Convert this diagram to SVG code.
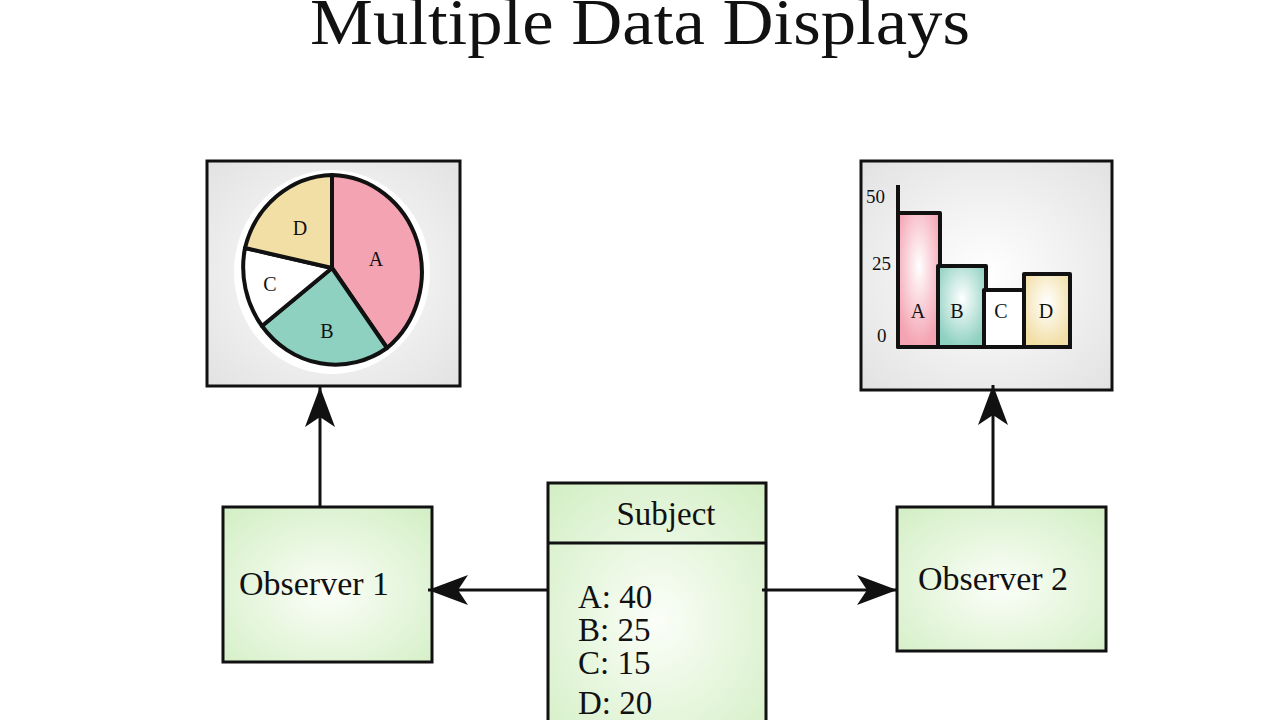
<svg xmlns="http://www.w3.org/2000/svg" width="1280" height="720" viewBox="0 0 1280 720">
<style>
text{font-family:"Liberation Serif",serif;fill:#111}
.box{stroke:#111;stroke-width:3}
.sl{stroke:#111;stroke-width:4;stroke-linejoin:round}
.con{stroke:#111;stroke-width:3;fill:none;marker-end:url(#ah)}
</style>
<defs>
<radialGradient id="gg" cx="50%" cy="55%" r="70%"><stop offset="0" stop-color="#fbfef8"/><stop offset="1" stop-color="#d4efc6"/></radialGradient>
<radialGradient id="gw" cx="50%" cy="50%" r="70%"><stop offset="0" stop-color="#fff"/><stop offset="1" stop-color="#e2e2e2"/></radialGradient>
<radialGradient id="ga" cx="50%" cy="40%" r="60%"><stop offset="0" stop-color="#fff"/><stop offset="1" stop-color="#f4a3b2"/></radialGradient>
<radialGradient id="gb" cx="50%" cy="40%" r="60%"><stop offset="0" stop-color="#fff"/><stop offset="1" stop-color="#8fd1c1"/></radialGradient>
<radialGradient id="gd" cx="50%" cy="40%" r="60%"><stop offset="0" stop-color="#fff"/><stop offset="1" stop-color="#f2dfa6"/></radialGradient>
<marker id="ah" viewBox="0 0 40 30" refX="40" refY="15" markerWidth="40" markerHeight="30" markerUnits="userSpaceOnUse" orient="auto"><path d="M0,0 L40,15 L0,30 L10,15 Z" fill="#111"/></marker>
</defs>
<rect width="1280" height="720" fill="#fff"/>
<text x="640" y="44" font-size="66" text-anchor="middle" textLength="660" lengthAdjust="spacingAndGlyphs">Multiple Data Displays</text>

<g id="pie-display">
<rect class="box" x="207" y="161" width="253" height="225" fill="url(#gw)"/>
<ellipse cx="332" cy="272" rx="98" ry="102" fill="#fff"/>
<path class="sl" d="M332,268 L332,175 A92,97 0 0 1 387,348 Z" fill="#f4a3b2"/>
<path class="sl" d="M332,268 L387,348 A92,97 0 0 1 262,326 Z" fill="#8fd1c1"/>
<path class="sl" d="M332,268 L262,326 A92,97 0 0 1 245,248 Z" fill="#fff"/>
<path class="sl" d="M332,268 L245,248 A92,97 0 0 1 332,175 Z" fill="#f2dfa6"/>
<text x="376" y="266" font-size="20" text-anchor="middle">A</text>
<text x="327" y="338" font-size="20" text-anchor="middle">B</text>
<text x="270" y="291" font-size="20" text-anchor="middle">C</text>
<text x="300" y="235" font-size="20" text-anchor="middle">D</text>
</g>

<g id="bar-display">
<rect class="box" x="861" y="161" width="251" height="229" fill="url(#gw)"/>
<rect class="sl" x="898" y="213" width="42" height="134" fill="url(#ga)"/>
<rect class="sl" x="938" y="266" width="48" height="81" fill="url(#gb)"/>
<rect class="sl" x="984" y="290" width="40" height="57" fill="#fff"/>
<rect class="sl" x="1024" y="274" width="46" height="73" fill="url(#gd)"/>
<path class="sl" d="M898,185 L898,347 L1072,347" fill="none"/>
<text x="866" y="203" font-size="19">50</text>
<text x="872" y="270" font-size="19">25</text>
<text x="877" y="342" font-size="19">0</text>
<text x="918" y="318" font-size="20" text-anchor="middle">A</text>
<text x="957" y="318" font-size="20" text-anchor="middle">B</text>
<text x="1001" y="318" font-size="20" text-anchor="middle">C</text>
<text x="1046" y="318" font-size="20" text-anchor="middle">D</text>
</g>

<g id="observer1">
<rect class="box" x="223" y="507" width="209" height="155" fill="url(#gg)"/>
<text x="314" y="595" font-size="34" text-anchor="middle">Observer 1</text>
</g>
<g id="observer2">
<rect class="box" x="897" y="507" width="209" height="144" fill="url(#gg)"/>
<text x="993" y="590" font-size="34" text-anchor="middle">Observer 2</text>
</g>
<g id="subject">
<rect class="box" x="548" y="483" width="218" height="250" fill="url(#gg)"/>
<line class="box" x1="548" y1="543" x2="766" y2="543"/>
<text x="666" y="525" font-size="33" text-anchor="middle">Subject</text>
<text x="578" y="608" font-size="33">A: 40</text>
<text x="578" y="641" font-size="33">B: 25</text>
<text x="578" y="674" font-size="33">C: 15</text>
<text x="578" y="714" font-size="33">D: 20</text>
</g>

<g id="connectors">
<line class="con" x1="320" y1="507" x2="320" y2="387"/>
<line class="con" x1="993" y1="507" x2="993" y2="385"/>
<line class="con" x1="548" y1="590" x2="428" y2="590"/>
<line class="con" x1="762" y1="590" x2="897" y2="590"/>
</g>
</svg>
